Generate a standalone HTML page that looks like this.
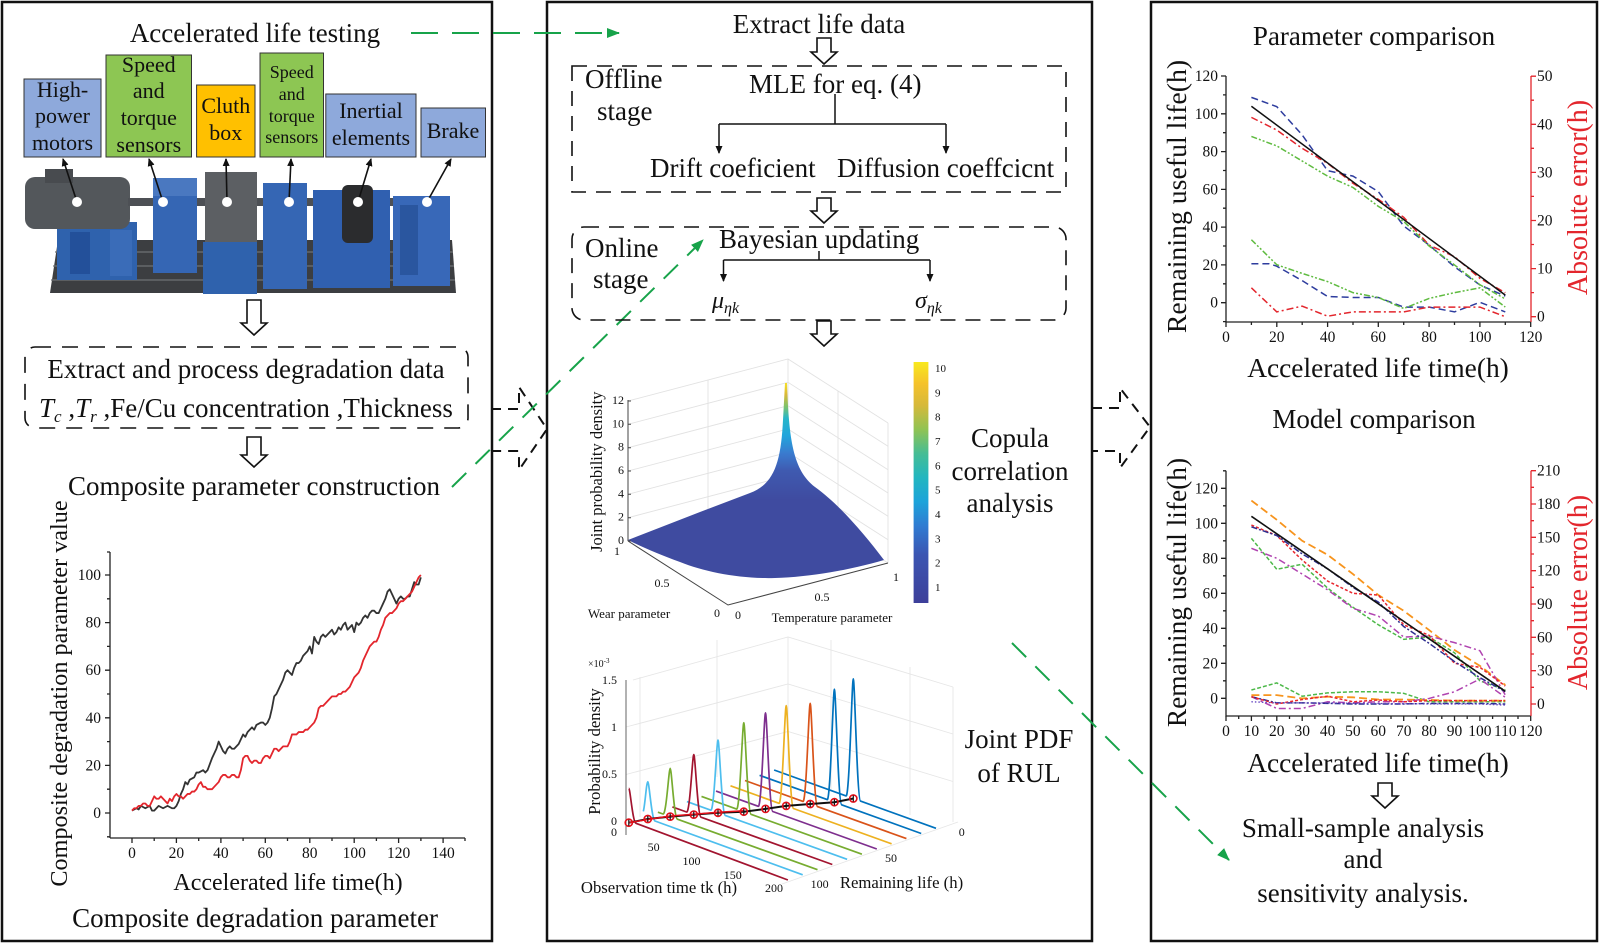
<!DOCTYPE html>
<html><head><meta charset="utf-8">
<style>
html,body{margin:0;padding:0;background:#fff;}
svg{display:block;}
text{font-family:"Liberation Serif","Times New Roman",serif;fill:#111;}
.t27{font-size:27px;}
.tk{font-size:15.5px;}
.red{fill:#e3262d;}
</style></head><body>
<svg width="1600" height="944" viewBox="0 0 1600 944" xmlns="http://www.w3.org/2000/svg">
<defs>
<marker id="ga" markerWidth="14" markerHeight="10" refX="12" refY="5" orient="auto" markerUnits="userSpaceOnUse"><path d="M0,0 L13,5 L0,10 z" fill="#17a34a"/></marker>
<marker id="ba" markerWidth="8" markerHeight="8" refX="7" refY="4" orient="auto" markerUnits="userSpaceOnUse"><path d="M0,0.5 L8,4 L0,7.5 z" fill="#111"/></marker>
<linearGradient id="cb" x1="0" y1="1" x2="0" y2="0">
<stop offset="0" stop-color="#3d3f9a"/><stop offset="0.2" stop-color="#3b55b2"/><stop offset="0.32" stop-color="#2f7bd2"/><stop offset="0.42" stop-color="#1ca3da"/><stop offset="0.52" stop-color="#22b6c0"/><stop offset="0.62" stop-color="#45bd95"/><stop offset="0.72" stop-color="#90c353"/><stop offset="0.82" stop-color="#d6b93a"/><stop offset="0.91" stop-color="#f5c22b"/><stop offset="1" stop-color="#f8e91e"/>
</linearGradient>
<linearGradient id="sf" gradientUnits="userSpaceOnUse" x1="0" y1="383" x2="0" y2="500">
<stop offset="0" stop-color="#f5df25"/><stop offset="0.1" stop-color="#d9b838"/><stop offset="0.2" stop-color="#7ec36a"/><stop offset="0.3" stop-color="#28b6c8"/><stop offset="0.45" stop-color="#21a5dc"/><stop offset="0.6" stop-color="#3a7bcf"/><stop offset="0.75" stop-color="#3f5ab0"/><stop offset="1" stop-color="#3f4ba0"/>
</linearGradient>
</defs>

<!-- ============ PANEL BORDERS ============ -->
<g fill="none" stroke="#111" stroke-width="2.5">
<rect x="2" y="2" width="490" height="939"/>
<rect x="547" y="2" width="545" height="939"/>
<rect x="1151" y="2" width="446" height="939"/>
</g>

<!-- ============ LEFT PANEL ============ -->
<text class="t27" x="255" y="42" text-anchor="middle">Accelerated life testing</text>

<!-- photo -->
<g>
<polygon points="58,240 452,240 456,293 50,293" fill="#3c3e41"/>
<g stroke="#6e7175" stroke-width="1.2"><line x1="55" y1="252" x2="453" y2="252"/><line x1="53" y1="266" x2="454" y2="266"/><line x1="51" y1="280" x2="455" y2="280"/></g>
<rect x="57" y="222" width="80" height="58" fill="#2f62ad"/>
<rect x="70" y="232" width="20" height="42" fill="#23509a"/>
<rect x="110" y="230" width="22" height="46" fill="#3a6cb8"/>
<rect x="25" y="177" width="105" height="52" rx="10" fill="#53575b"/>
<rect x="45" y="169" width="28" height="14" fill="#484b4f"/>
<rect x="128" y="198" width="280" height="8" fill="#4d5055"/>
<rect x="153" y="178" width="44" height="95" fill="#3566b4"/>
<rect x="153" y="178" width="44" height="18" fill="#4a78c0"/>
<rect x="205" y="172" width="52" height="72" fill="#5c5f63"/>
<rect x="203" y="242" width="54" height="52" fill="#2f62ad"/>
<rect x="263" y="183" width="44" height="106" fill="#3566b4"/>
<rect x="313" y="190" width="77" height="98" fill="#3060b0"/>
<rect x="342" y="185" width="31" height="58" rx="6" fill="#2b2c2e"/>
<rect x="393" y="196" width="57" height="90" fill="#3868b8"/>
<rect x="400" y="205" width="18" height="70" fill="#2a569f"/>
</g>
<!-- arrows from dots -->
<g stroke="#111" stroke-width="1.6" marker-end="url(#ba)">
<line x1="77" y1="202" x2="63" y2="159"/>
<line x1="163" y1="202" x2="149" y2="159"/>
<line x1="227" y1="202" x2="226" y2="159"/>
<line x1="289" y1="202" x2="291" y2="159"/>
<line x1="358" y1="202" x2="371" y2="159"/>
<line x1="427" y1="202" x2="451" y2="159"/>
</g>
<g fill="#fff">
<circle cx="77" cy="202" r="5"/><circle cx="163" cy="202" r="5"/><circle cx="227" cy="202" r="5"/><circle cx="289" cy="202" r="5"/><circle cx="358" cy="202" r="5"/><circle cx="427" cy="202" r="5"/>
</g>
<!-- label boxes -->
<g stroke="#333" stroke-width="1">
<rect x="24" y="79" width="77" height="78" fill="#8ea9db"/>
<rect x="106" y="55" width="85.5" height="102" fill="#8dc653"/>
<rect x="196.6" y="85" width="58.4" height="72" fill="#ffc000"/>
<rect x="260" y="53" width="63.5" height="104" fill="#8dc653"/>
<rect x="325.8" y="94" width="90.2" height="63" fill="#8ea9db"/>
<rect x="421" y="108" width="64.5" height="49" fill="#8ea9db"/>
</g>
<g font-size="22" text-anchor="middle">
<text x="62.5" y="97">High-</text><text x="62.5" y="123">power</text><text x="62.5" y="150">motors</text>
<text x="148.8" y="72">Speed</text><text x="148.8" y="98">and</text><text x="148.8" y="125">torque</text><text x="148.8" y="152">sensors</text>
<text x="225.8" y="113">Cluth</text><text x="225.8" y="140">box</text>
<text x="371" y="118">Inertial</text><text x="371" y="145">elements</text>
<text x="453" y="138">Brake</text>
</g>
<g font-size="18" text-anchor="middle">
<text x="291.8" y="78">Speed</text><text x="291.8" y="100">and</text><text x="291.8" y="122">torque</text><text x="291.8" y="143">sensors</text>
</g>

<!-- hollow arrows -->
<g fill="#fff" stroke="#111" stroke-width="1.6" stroke-linejoin="miter">
<polygon points="247,300 261,300 261,323 267,323 254,335 241,323 247,323"/>
<polygon points="247,437 261,437 261,455 267,455 254,467 241,455 247,455"/>
<polygon points="817,38 831,38 831,52 837,52 824,64 811,52 817,52"/>
<polygon points="817,198 831,198 831,211 837,211 824,223 811,211 817,211"/>
<polygon points="817,321 831,321 831,334 837,334 824,346 811,334 817,334"/>
<polygon points="1378,783 1392,783 1392,796 1398,796 1385,808 1372,796 1378,796"/>
</g>

<!-- degradation box -->
<rect x="25" y="347" width="443" height="81" rx="10" fill="none" stroke="#111" stroke-width="1.6" stroke-dasharray="16 11"/>
<text class="t27" x="246" y="378" text-anchor="middle">Extract and process degradation data</text>
<text class="t27" x="39" y="417"><tspan font-style="italic">T</tspan><tspan font-size="17" font-style="italic" dy="5">c</tspan><tspan dy="-5"> ,</tspan><tspan font-style="italic">T</tspan><tspan font-size="17" font-style="italic" dy="5">r</tspan><tspan dy="-5"> ,Fe/Cu concentration ,Thickness</tspan></text>
<text class="t27" x="254" y="495" text-anchor="middle">Composite parameter construction</text>

<!-- left chart -->
<g stroke="#222" stroke-width="1.3" fill="none">
<line x1="110" y1="552" x2="110" y2="838"/>
<line x1="110" y1="838" x2="465" y2="838"/>
<path d="M105,813H110M105,765.4H110M105,717.8H110M105,670.2H110M105,622.6H110M105,575H110M107,789.2H110M107,741.6H110M107,694H110M107,646.4H110M107,598.8H110M107,552H110M107,836.8H110"/>
<path d="M132,838V843M176.4,838V843M220.9,838V843M265.3,838V843M309.8,838V843M354.2,838V843M398.6,838V843M443.1,838V843M154.2,838V841M198.7,838V841M243.1,838V841M287.5,838V841M332,838V841M376.4,838V841M420.9,838V841M465,838V841"/>
</g>
<g font-size="15.5" text-anchor="end">
<text x="101" y="818">0</text><text x="101" y="770.4">20</text><text x="101" y="722.8">40</text><text x="101" y="675.2">60</text><text x="101" y="627.6">80</text><text x="101" y="580">100</text>
</g>
<g font-size="15.5" text-anchor="middle">
<text x="132" y="858">0</text><text x="176.4" y="858">20</text><text x="220.9" y="858">40</text><text x="265.3" y="858">60</text><text x="309.8" y="858">80</text><text x="354.2" y="858">100</text><text x="398.6" y="858">120</text><text x="443.1" y="858">140</text>
</g>
<g transform="matrix(2.222 0 0 -2.38 132 813)" fill="none" stroke-linejoin="round">
<polyline vector-effect="non-scaling-stroke" stroke="#333" stroke-width="1.8" points="0,1 2,2 3,1.5 4,3 6,2 8,3 9,1 10,1 11,2 12,3 14,2 16,3 18,2 19,2 20,3 21,5 22,8 23,10 24,13 25,12 26,14 28,15 29,17 30,17 32,18 33,17 34,18 36,23 37,25 38,27 39,30 40,28 41,26 42,25 43,27 44,28 45,27 46,27 48,29 49,31 50,33 51,32 52,34 54,36 55,35 56,37 58,38 59,38 60,37 61,38 62,40 63,44 64,49 65,50 66,52 68,56 69,59 70,60 71,59 72,58 73,61 74,63 75,63 76,64 77,66 78,67 79,68 80,70 81,67 82,74 83,72 84,71 85,74 86,75 87,74 88,75 89,76 90,77 91,75 92,76 93,78 94,77 95,79 96,80 97,77 98,78 99,79 100,76 101,80 102,79 103,80 104,82 105,83 106,82 107,84 108,85 109,85 110,84 111,84 112,86 113,88 114,90 115,93 116,94 117,92 118,90 119,88 120,90 121,91 122,90 123,90 124,91 125,91 126,94 127,97 128,96 129,96 130,99"/>
<polyline vector-effect="non-scaling-stroke" stroke="#e3262d" stroke-width="1.8" points="0,1 1,2 2,2 3,3 4,3 5,4 6,4 7,3 8,3 9,5 10,7 11,6 12,6 13,7 14,6 15,5 16,4 17,6 18,5 19,7 20,8 21,7 22,7 23,6 24,7 25,8 26,8 27,9 28,9 29,10 30,12 31,13 32,11 33,11 34,10 35,10 36,10 37,11 38,12 39,13 40,15 41,16 42,16 43,15 44,15 45,16 46,16 47,15 48,15 49,18 50,23 51,24 52,24 53,22 54,21 55,22 56,22 57,21 58,21 59,23 60,24 61,24 62,23 63,25 64,27 65,27 66,26 67,27 68,28 69,28 70,28 71,30 72,33 73,33 74,33 75,34 76,34 77,34 78,35 79,35 80,36 81,37 82,38 83,40 84,44 85,45 86,45 87,46 88,47 89,48 90,49 91,49 92,49 93,50 94,50 95,51 96,51 97,52 98,53 99,55 100,57 101,58 102,59 103,61 104,64 105,66 106,68 107,70 108,71 109,72 110,72 111,74 112,77 113,79 114,82 115,83 116,84 117,84 118,85 119,86 120,88 121,89 122,89 123,90 124,91 125,92 126,93 127,95 128,97 129,99 130,100"/>
</g>
<text font-size="24.2" transform="rotate(-90 67 693.5)" x="67" y="693.5" text-anchor="middle">Composite degradation parameter value</text>
<text font-size="24" x="288" y="890" text-anchor="middle">Accelerated life time(h)</text>
<text class="t27" x="255" y="927" text-anchor="middle">Composite degradation parameter</text>

<!-- ============ CONNECTORS ============ -->
<g fill="none" stroke="#111" stroke-width="2" stroke-dasharray="10 7">
<path d="M491,409 L519,409 L519,387 L547,429 L519,470 L519,451 L491,451"/>
<path d="M1092,408 L1120,408 L1120,388 L1150,427 L1120,468 L1120,451 L1092,451"/>
</g>
<g fill="none" stroke="#17a34a" stroke-width="2">
<path d="M411,33 L619,33" stroke-dasharray="27 14" marker-end="url(#ga)"/>
<path d="M452,487 L703,240" stroke-dasharray="20 13" marker-end="url(#ga)"/>
<path d="M1012,643 L1229,860" stroke-dasharray="20 13" marker-end="url(#ga)"/>
</g>

<!-- ============ MIDDLE PANEL ============ -->
<text class="t27" x="819" y="33" text-anchor="middle">Extract life data</text>
<rect x="572" y="66" width="494" height="126" fill="none" stroke="#111" stroke-width="1.6" stroke-dasharray="15 10"/>
<text class="t27" x="585" y="88">Offline</text>
<text class="t27" x="597" y="120">stage</text>
<text class="t27" x="749" y="93">MLE for eq. (4)</text>
<g stroke="#111" stroke-width="1.5" fill="none">
<path d="M835,94V124M719,124H946"/>
<line x1="719" y1="124" x2="719" y2="153" marker-end="url(#ba)"/>
<line x1="946" y1="124" x2="946" y2="153" marker-end="url(#ba)"/>
</g>
<text class="t27" x="650" y="177">Drift coeficient</text>
<text class="t27" x="837" y="177">Diffusion coeffcicnt</text>

<rect x="572" y="227" width="494" height="93" rx="12" fill="none" stroke="#111" stroke-width="1.6" stroke-dasharray="15 10"/>
<text class="t27" x="585" y="257">Online</text>
<text class="t27" x="593" y="288">stage</text>
<text class="t27" x="719" y="248">Bayesian updating</text>
<g stroke="#111" stroke-width="1.5" fill="none">
<path d="M819,251V260M723.5,260H930"/>
<line x1="723.5" y1="260" x2="723.5" y2="281" marker-end="url(#ba)"/>
<line x1="930" y1="260" x2="930" y2="281" marker-end="url(#ba)"/>
</g>
<text x="712" y="308" font-size="24" font-style="italic">μ<tspan font-size="16" dy="5">ηk</tspan></text>
<text x="915" y="308" font-size="24" font-style="italic">σ<tspan font-size="16" dy="5">ηk</tspan></text>

<!-- 3D surface -->
<g stroke="#e2e2e2" stroke-width="0.9" fill="none">
<path d="M628,541L788,499L888,563M628,517.7L788,475.7L888,539.7M628,494.3L788,452.3L888,516.3M628,471L788,429L888,493M628,447.7L788,405.7L888,469.7M628,424.3L788,382.3L888,446.3M628,401L788,359L888,423"/>
<path d="M708,520V380M788,499V359M838,531V391M888,563V423"/>
</g>
<path d="M628,540 L700,512 L750,493 C775,484 781,460 783,420 L785,383 L787,383 C789,440 793,470 815,487 C840,505 865,535 884,560 C850,570 810,577 775,578 C740,579 705,572 680,562 C660,555 640,546 628,540 Z" fill="url(#sf)"/>
<g stroke="#444" stroke-width="1" fill="none">
<path d="M628,400V541M628,541L728,605L888,563"/>
<path d="M628,541h3M628,517.7h3M628,494.3h3M628,471h3M628,447.7h3M628,424.3h3M628,401h3"/>
</g>
<g font-size="12" text-anchor="end">
<text x="624" y="404">12</text><text x="624" y="427.3">10</text><text x="624" y="450.6">8</text><text x="624" y="474">6</text><text x="624" y="497.3">4</text><text x="624" y="520.6">2</text><text x="624" y="544">0</text>
</g>
<g font-size="12" text-anchor="middle">
<text x="617" y="555">1</text><text x="662" y="587">0.5</text><text x="717" y="617">0</text><text x="738" y="619">0</text><text x="822" y="601">0.5</text><text x="896" y="581">1</text>
</g>
<text font-size="16.5" transform="rotate(-90 602 471.7)" x="602" y="471.7" text-anchor="middle">Joint probability density</text>
<text font-size="13" x="629" y="618" text-anchor="middle">Wear parameter</text>
<text font-size="13" x="832" y="622" text-anchor="middle">Temperature parameter</text>
<rect x="913.6" y="362" width="14.8" height="241" fill="url(#cb)"/>
<g font-size="11">
<text x="935" y="372">10</text><text x="935" y="396.3">9</text><text x="935" y="420.7">8</text><text x="935" y="445">7</text><text x="935" y="469.3">6</text><text x="935" y="493.7">5</text><text x="935" y="518">4</text><text x="935" y="542.3">3</text><text x="935" y="566.7">2</text><text x="935" y="591">1</text>
</g>
<g class="t27" text-anchor="middle">
<text x="1010" y="447">Copula</text><text x="1010" y="480">correlation</text><text x="1010" y="512">analysis</text>
</g>

<!-- Joint PDF plot -->
<g stroke="#e6e6e6" stroke-width="0.9" fill="none">
<path d="M633,680L788,637L953,687"/>
<path d="M626,727L788,684L953,734M626,774.5L788,731.5L953,781.5"/>
<path d="M640,677V817M717,640V777M788,637V770M831,640V790M910,667V815M953,687V822"/>
<path d="M782,884L958,822"/>
</g>
<line x1="626" y1="680" x2="626" y2="835" stroke="#555" stroke-width="0.9"/>
<g fill="none" stroke-width="1.7" stroke-linejoin="round">
<path stroke="#0072bd" d="M774.1,770 L846.1,795.9 C849.5,797.1 851.9,678.8 853.3,678.8 C854.7,678.8 857.1,799.9 860.5,801.1 L936,828.3"/>
<path stroke="#0072bd" d="M759.6,775.3 L827.2,799.6 C830.6,800.8 833,689.2 834.4,689.2 C835.8,689.2 838.2,803.6 841.6,804.8 L921.2,833.5"/>
<path stroke="#d95319" d="M745,780.5 L803,801.4 C806.4,802.6 808.8,703.3 810.2,703.3 C811.6,703.3 814,805.4 817.4,806.6 L906.4,838.6"/>
<path stroke="#edb120" d="M730.5,785.8 L779,803.3 C782.4,804.5 784.8,705.6 786.2,705.6 C787.6,705.6 790,807.3 793.4,808.5 L891.6,843.8"/>
<path stroke="#7e2f8e" d="M716,791.1 L758.3,806.3 C761.7,807.5 764.1,712.9 765.5,712.9 C766.9,712.9 769.3,810.3 772.7,811.5 L876.8,849"/>
<path stroke="#77ac30" d="M701.5,796.4 L736.6,809.1 C740,810.3 742.4,722.7 743.8,722.7 C745.2,722.7 747.6,813.1 751,814.3 L861.9,854.2"/>
<path stroke="#4dbeee" d="M686.9,801.6 L710.8,810.2 C714.2,811.4 716.6,740.1 718,740.1 C719.4,740.1 721.8,814.2 725.2,815.4 L847.1,859.3"/>
<path stroke="#a2142f" d="M672.4,806.9 L686.6,812 C690,813.2 692.4,754.6 693.8,754.6 C695.2,754.6 697.6,816 701,817.2 L832.3,864.5"/>
<path stroke="#77ac30" d="M657.9,812.2 L663,814 C666.4,815.2 668.8,768.3 670.2,768.3 C671.6,768.3 674,818 677.4,819.2 L817.5,869.7"/>
<path stroke="#4dbeee" d="M643.3,811.4 C645,806 646.4,781.7 647.8,781.7 C649.2,781.7 651.6,819.8 655,821 L802.7,874.8"/>
<path stroke="#a2142f" d="M628.8,788.4 C630.2,788.4 632.6,822.3 636,823.3 L787.9,880"/>
</g>
<polyline fill="none" stroke="#111" stroke-width="2" points="628.8,822.7 647.8,819 670.2,816.6 693.8,814.6 718,812.8 743.8,811.7 765.5,808.9 786.2,805.9 810.2,804 834.4,802.2 853.3,798.5"/>
<polyline fill="none" stroke="#e3101a" stroke-width="1.5" points="628.8,822.7 647.8,819.5 670.2,816 693.8,814.2 718,812.2 743.8,810.8"/>
<g fill="none" stroke="#e3101a" stroke-width="1.6">
<circle cx="628.8" cy="822.7" r="3.6"/><circle cx="647.8" cy="819" r="3.6"/><circle cx="670.2" cy="816.6" r="3.6"/><circle cx="693.8" cy="814.6" r="3.6"/><circle cx="718" cy="812.8" r="3.6"/><circle cx="743.8" cy="811.7" r="3.6"/><circle cx="765.5" cy="808.9" r="3.6"/><circle cx="786.2" cy="805.9" r="3.6"/><circle cx="810.2" cy="804" r="3.6"/><circle cx="834.4" cy="802.2" r="3.6"/><circle cx="853.3" cy="798.5" r="3.6"/>
</g>
<g stroke="#111" stroke-width="1.2">
<path d="M628.8,819.7v6M647.8,816v6M670.2,813.6v6M693.8,811.6v6M718,809.8v6M743.8,808.7v6M765.5,805.9v6M786.2,802.9v6M810.2,801v6M834.4,799.2v6M853.3,795.5v6"/>
</g>
<text font-size="10" x="588" y="667">×10<tspan font-size="7" dy="-4">-3</tspan></text>
<g font-size="12" text-anchor="end">
<text x="617" y="684">1.5</text><text x="617" y="731">1</text><text x="617" y="778">0.5</text><text x="617" y="825">0</text><text x="617" y="836">0</text>
</g>
<g font-size="12" text-anchor="middle">
<text x="653.6" y="851">50</text><text x="691.5" y="865">100</text><text x="732.8" y="879">150</text><text x="774" y="892">200</text>
<text x="961.8" y="836">0</text><text x="891" y="862">50</text><text x="819.6" y="888">100</text>
</g>
<text font-size="16.7" transform="rotate(-90 600 751.5)" x="600" y="751.5" text-anchor="middle">Probability density</text>
<text font-size="16.7" x="659" y="893" text-anchor="middle">Observation time tk (h)</text>
<text font-size="16.7" x="901.5" y="888" text-anchor="middle">Remaining life (h)</text>
<g class="t27" text-anchor="middle">
<text x="1019" y="748">Joint PDF</text><text x="1019" y="782">of RUL</text>
</g>

<!-- ============ RIGHT PANEL ============ -->
<text class="t27" x="1374" y="45" text-anchor="middle">Parameter comparison</text>
<!-- chart 1 axes -->
<g stroke="#222" stroke-width="1.3" fill="none">
<path d="M1226,76V322H1531"/>
<path d="M1221,302.7H1226M1221,264.9H1226M1221,227.1H1226M1221,189.4H1226M1221,151.6H1226M1221,113.8H1226M1221,76H1226M1223,321.6H1226M1223,283.8H1226M1223,246H1226M1223,208.2H1226M1223,170.5H1226M1223,132.7H1226M1223,94.9H1226"/>
<path d="M1226,322V327M1276.8,322V327M1327.6,322V327M1378.3,322V327M1429.1,322V327M1479.9,322V327M1530.7,322V327M1251.4,322V325M1302.2,322V325M1353,322V325M1403.7,322V325M1454.5,322V325M1505.3,322V325"/>
</g>
<g stroke="#e3262d" stroke-width="1.3" fill="none">
<path d="M1531,76V322"/>
<path d="M1531,316.7H1536M1531,268.6H1536M1531,220.5H1536M1531,172.4H1536M1531,124.3H1536M1531,76.2H1536M1531,292.6H1534M1531,244.5H1534M1531,196.4H1534M1531,148.3H1534M1531,100.2H1534"/>
</g>
<g class="tk" text-anchor="end">
<text x="1218" y="307.7">0</text><text x="1218" y="269.9">20</text><text x="1218" y="232.1">40</text><text x="1218" y="194.4">60</text><text x="1218" y="156.6">80</text><text x="1218" y="118.8">100</text><text x="1218" y="81">120</text>
</g>
<g class="tk red">
<text x="1537" y="321.7">0</text><text x="1537" y="273.6">10</text><text x="1537" y="225.5">20</text><text x="1537" y="177.4">30</text><text x="1537" y="129.3">40</text><text x="1537" y="81.2">50</text>
</g>
<g class="tk" text-anchor="middle">
<text x="1226" y="342">0</text><text x="1276.8" y="342">20</text><text x="1327.6" y="342">40</text><text x="1378.3" y="342">60</text><text x="1429.1" y="342">80</text><text x="1479.9" y="342">100</text><text x="1530.7" y="342">120</text>
</g>
<g transform="matrix(2.539 0 0 -1.889 1226 302.7)" fill="none">
<polyline vector-effect="non-scaling-stroke" stroke="#2e3d9e" stroke-width="1.5" stroke-dasharray="7 4" points="10,108.7 20,103.8 30,88.8 40,69.9 50,67 60,58.8 70,40.6 80,30.5 90,19 100,9.4 110,3.5"/>
<polyline vector-effect="non-scaling-stroke" stroke="#e3262d" stroke-width="1.5" stroke-dasharray="7 3 2 3" points="10,98.1 20,91.4 30,81.7 40,73.8 50,63.2 60,54.7 70,45.2 80,30.5 90,24.4 100,12.9 110,5.3"/>
<polyline vector-effect="non-scaling-stroke" stroke="#5fbb40" stroke-width="1.5" stroke-dasharray="6 2 2 2 2 2" points="10,88 20,83 30,75 40,67 50,61 60,51 70,43 80,30 90,20 100,9.5 110,2"/>
<polyline vector-effect="non-scaling-stroke" stroke="#111" stroke-width="1.5" points="10,104 110,4"/>
</g>
<g transform="matrix(2.539 0 0 -4.81 1226 316.7)" fill="none">
<polyline vector-effect="non-scaling-stroke" stroke="#2e3d9e" stroke-width="1.5" stroke-dasharray="7 4" points="10,11 17,11 20,10.5 30,7.5 40,4.2 50,4 60,4 70,2 80,2 90,1 100,3 110,1"/>
<polyline vector-effect="non-scaling-stroke" stroke="#5fbb40" stroke-width="1.5" stroke-dasharray="6 2 2 2 2 2" points="10,16 20,10.8 30,9 40,7.3 50,5 60,4 70,1.7 80,3.8 90,5 100,6 110,2"/>
<polyline vector-effect="non-scaling-stroke" stroke="#e3262d" stroke-width="1.5" stroke-dasharray="7 3 2 3" points="10,6 20,1 30,2.2 40,0.1 50,1 60,1 70,1 80,2 90,2 100,2 110,0"/>
</g>
<text font-size="27.8" transform="rotate(-90 1186 196.5)" x="1186" y="196.5" text-anchor="middle">Remaining useful life(h)</text>
<text font-size="28" class="red" transform="rotate(-90 1587 197.5)" x="1587" y="197.5" text-anchor="middle">Absolute error(h)</text>
<text font-size="27.4" x="1378" y="377" text-anchor="middle">Accelerated life time(h)</text>

<text class="t27" x="1374" y="428" text-anchor="middle">Model comparison</text>
<!-- chart 2 axes -->
<g stroke="#222" stroke-width="1.3" fill="none">
<path d="M1226,470.7V716H1531"/>
<path d="M1221,698.3H1226M1221,663.3H1226M1221,628.3H1226M1221,593.3H1226M1221,558.3H1226M1221,523.3H1226M1221,488.3H1226M1223,680.8H1226M1223,645.8H1226M1223,610.8H1226M1223,575.8H1226M1223,540.8H1226M1223,505.8H1226M1223,470.8H1226"/>
<path d="M1226,716v5M1251.4,716v5M1276.8,716v5M1302.2,716v5M1327.6,716v5M1352.9,716v5M1378.3,716v5M1403.7,716v5M1429.1,716v5M1454.5,716v5M1479.9,716v5M1505.3,716v5M1530.7,716v5M1238.7,716v3M1264.1,716v3M1289.5,716v3M1314.9,716v3M1340.3,716v3M1365.6,716v3M1391,716v3M1416.4,716v3M1441.8,716v3M1467.2,716v3M1492.6,716v3M1518,716v3"/>
</g>
<g stroke="#e3262d" stroke-width="1.3" fill="none">
<path d="M1531,470.7V716"/>
<path d="M1531,704h5M1531,670.7h5M1531,637.3h5M1531,604h5M1531,570.7h5M1531,537.3h5M1531,504h5M1531,470.7h5M1531,687.3h3M1531,654h3M1531,620.7h3M1531,587.3h3M1531,554h3M1531,520.7h3M1531,487.3h3"/>
</g>
<g class="tk" text-anchor="end">
<text x="1218" y="703.3">0</text><text x="1218" y="668.3">20</text><text x="1218" y="633.3">40</text><text x="1218" y="598.3">60</text><text x="1218" y="563.3">80</text><text x="1218" y="528.3">100</text><text x="1218" y="493.3">120</text>
</g>
<g class="tk red">
<text x="1537" y="709">0</text><text x="1537" y="675.7">30</text><text x="1537" y="642.3">60</text><text x="1537" y="609">90</text><text x="1537" y="575.7">120</text><text x="1537" y="542.3">150</text><text x="1537" y="509">180</text><text x="1537" y="475.7">210</text>
</g>
<g class="tk" text-anchor="middle">
<text x="1226" y="736">0</text><text x="1251.4" y="736">10</text><text x="1276.8" y="736">20</text><text x="1302.2" y="736">30</text><text x="1327.6" y="736">40</text><text x="1352.9" y="736">50</text><text x="1378.3" y="736">60</text><text x="1403.7" y="736">70</text><text x="1429.1" y="736">80</text><text x="1454.5" y="736">90</text><text x="1479.9" y="736">100</text><text x="1505.3" y="736">110</text><text x="1530.7" y="736">120</text>
</g>
<g transform="matrix(2.539 0 0 -1.75 1226 698.3)" fill="none">
<polyline vector-effect="non-scaling-stroke" stroke="#f7941d" stroke-width="1.8" stroke-dasharray="8 4" points="10,113 20,102 30,90 40,82 50,71 60,59 70,50 80,39 90,27.6 100,18.5 110,7.6"/>
<polyline vector-effect="non-scaling-stroke" stroke="#4cb848" stroke-width="1.5" stroke-dasharray="4 2" points="10,91.4 20,73.7 30,76.6 40,63 50,52 60,42 70,33.7 80,35 90,26 100,10 110,4.8"/>
<polyline vector-effect="non-scaling-stroke" stroke="#b043b0" stroke-width="1.5" stroke-dasharray="7 3 2 3" points="10,85.7 20,80 30,71 40,62 50,51.4 60,47 70,35 80,35.6 90,31.8 100,27.2 110,1.9"/>
<polyline vector-effect="non-scaling-stroke" stroke="#e8262d" stroke-width="1.5" stroke-dasharray="3 2" points="10,99 20,93 30,79 40,67 50,60 60,59 70,42 80,36 90,20 100,17.7 110,7"/>
<polyline vector-effect="non-scaling-stroke" stroke="#2d2d8f" stroke-width="1.5" stroke-dasharray="6 2 2 2" points="10,98 20,93 30,82.5 40,74 50,63.4 60,55 70,41 80,31.4 90,21 100,11.8 110,3.8"/>
<polyline vector-effect="non-scaling-stroke" stroke="#111" stroke-width="1.6" points="10,104 110,4"/>
</g>
<g transform="matrix(2.539 0 0 -1.111 1226 704)" fill="none">
<polyline vector-effect="non-scaling-stroke" stroke="#4cb848" stroke-width="1.5" stroke-dasharray="4 2" points="10,12.6 20,19 30,7 40,10 50,11 60,11 70,9.6 80,2 90,2 100,2 110,2"/>
<polyline vector-effect="non-scaling-stroke" stroke="#f7941d" stroke-width="1.8" stroke-dasharray="8 4" points="10,8 20,8 30,5 40,6.6 50,6 60,4 70,4 80,3.6 90,3 100,3 110,3"/>
<polyline vector-effect="non-scaling-stroke" stroke="#b043b0" stroke-width="1.5" stroke-dasharray="7 3 2 3" points="10,6.6 20,-4 30,-4 40,2 50,1 60,2 70,2 80,5 90,11 100,22.5 110,6"/>
<polyline vector-effect="non-scaling-stroke" stroke="#2d2d8f" stroke-width="1.5" stroke-dasharray="6 2 2 2" points="10,6.6 20,1 30,1 40,0.6 50,0 60,0 70,0 80,0.5 90,0.5 100,0.5 110,0"/>
<polyline vector-effect="non-scaling-stroke" stroke="#e8262d" stroke-width="1.5" stroke-dasharray="3 2" points="10,6.6 20,0 30,4 40,7 50,2 60,3.6 70,2 80,3 90,3 100,3 110,3"/>
<polyline vector-effect="non-scaling-stroke" stroke="#6040c0" stroke-width="1.3" stroke-dasharray="1.5 2" points="10,2 20,1 40,1 60,0.5 80,0 100,0 110,-1"/>
</g>
<text font-size="27.4" transform="rotate(-90 1186 592.5)" x="1186" y="592.5" text-anchor="middle">Remaining useful life(h)</text>
<text font-size="28" class="red" transform="rotate(-90 1587 592.5)" x="1587" y="592.5" text-anchor="middle">Absolute error(h)</text>
<text font-size="27.4" x="1378" y="772" text-anchor="middle">Accelerated life time(h)</text>

<g class="t27" text-anchor="middle">
<text x="1363" y="837">Small-sample analysis</text>
<text x="1363" y="868">and</text>
<text x="1363" y="902">sensitivity analysis.</text>
</g>
</svg>
</body></html>
